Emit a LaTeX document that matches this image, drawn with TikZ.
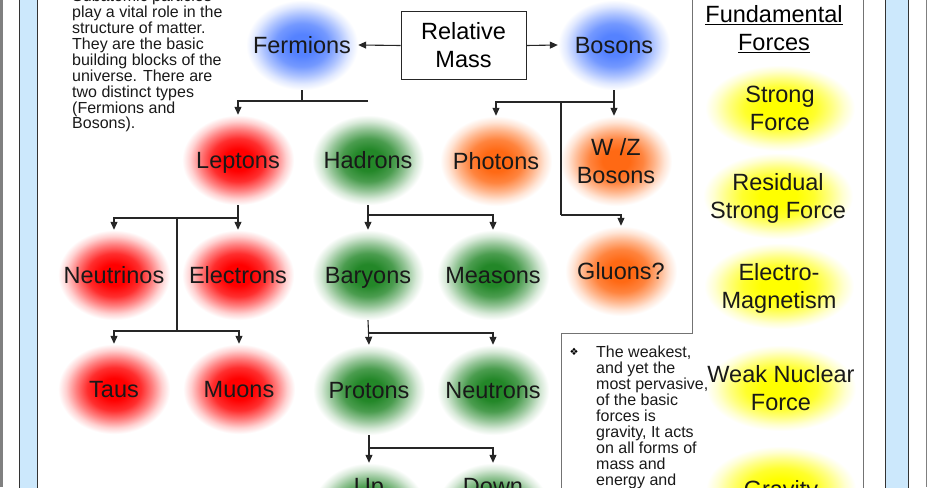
\documentclass[tikz,border=0pt]{standalone}
\usepackage{fontspec}
\setmainfont{Liberation Sans}
\newfontfamily\bulletfont{DejaVu Sans}
\usetikzlibrary{arrows.meta}

\definecolor{glowR}{RGB}{255,0,0}
\definecolor{glowG}{RGB}{35,135,40}
\definecolor{glowO}{RGB}{255,105,20}
\definecolor{glowB}{RGB}{85,130,255}
\definecolor{glowY}{RGB}{255,255,0}
\definecolor{blueband}{RGB}{204,232,252}

% soft glow behind each label
\newcommand{\glowshading}[2]{%
  \pgfdeclareradialshading{#1}{\pgfpoint{0bp}{0bp}}{color(0bp)=(#2); color(6bp)=(#2);
    color(12bp)=(#2!82!white); color(17bp)=(#2!50!white); color(21.5bp)=(#2!18!white);
    color(25bp)=(white); color(50bp)=(white)}}
\glowshading{glowred}{glowR}
\glowshading{glowgreen}{glowG}
\glowshading{gloworange}{glowO}
\glowshading{glowblue}{glowB}
\glowshading{glowyellow}{glowY}

\newcommand{\bigtext}{\fontsize{23.5pt}{28pt}\selectfont}
\newcommand{\smalltext}{\fontsize{16pt}{15.9pt}\selectfont}

\tikzset{
  glow/.style={shade, shading=#1, minimum width=112pt, minimum height=90pt, inner sep=0pt,
    align=center, font=\bigtext, text=black!90, text height=16.8pt, text depth=0pt},
  twoline/.style={text height=44.8pt},
  lepton/.style={glow=glowred},
  hadron/.style={glow=glowgreen},
  boson/.style={glow=gloworange},
  family/.style={glow=glowblue},
  force/.style={glow=glowyellow, minimum width=150pt, minimum height=86pt},
  link/.style={line width=1.1pt, draw=black!85},
  arr/.style={link, -{Triangle[length=8pt, width=7pt]}},
  panel/.style={line width=1pt, draw=black!55},
  band/.style={fill=blueband, draw=black!80, line width=1pt},
  note/.style={font=\smalltext, align=left, inner sep=0pt, text=black!90},
}

\begin{document}
\begin{tikzpicture}[x=1pt, y=-1pt]
  \useasboundingbox (0,0) rectangle (928,487);
  \clip (0,0) rectangle (928,487);

  % frame
  \fill[black!50] (0,0) rectangle (3,487);
  \draw[black!50, line width=1pt] (926.5,0) -- (926.5,487);
  \draw[band] (19,-2) rectangle (37,489);
  \draw[band] (885,-2) rectangle (908,489);
  \draw[panel] (692,-2) -- (692,333) -- (561,333) -- (561,489);
  \draw[panel] (863,-2) -- (863,489);

  % left note
  \node[font=\bulletfont\fontsize{10pt}{10pt}\selectfont] (topbullet) at (53,-4) {❖};
  \node[note, anchor=north west] (intro) at (72,-10)
    {Subatomic particles\\play a vital role in the\\structure of matter.\\They are the basic\\building blocks of the\\universe. There are\\two distinct types\\(Fermions and\\Bosons).};

  % top row
  \node[draw=black!85, line width=1pt, minimum width=125pt, minimum height=67pt, inner sep=0pt,
    align=center, font=\bigtext, text height=44.8pt, text depth=0pt] (mass) at (463.5,45.5) {Relative\\Mass};
  \node[family] (fermions) at (302,45) {Fermions};
  \node[family] (bosons) at (614,45) {Bosons};

  % particles
  \node[lepton] (leptons) at (238,160) {Leptons};
  \node[hadron] (hadrons) at (368,160) {Hadrons};
  \node[boson] (photons) at (496,161) {Photons};
  \node[boson, twoline] (wz) at (616,161) {W /Z\\Bosons};
  \node[lepton] (neutrinos) at (114,275) {Neutrinos};
  \node[lepton] (electrons) at (238,275) {Electrons};
  \node[hadron] (baryons) at (368,275) {Baryons};
  \node[hadron] (measons) at (493,275) {Measons};
  \node[boson] (gluons) at (621,271) {Gluons?};
  \node[lepton] (taus) at (114,389) {Taus};
  \node[lepton] (muons) at (239,389) {Muons};
  \node[hadron] (protons) at (369,390) {Protons};
  \node[hadron] (neutrons) at (493,390) {Neutrons};
  \node[hadron, text height=16pt, text depth=43pt] (up) at (369,508) {Up};
  \node[hadron, text height=16pt, text depth=43pt] (down) at (493,508) {Down};

  % forces column
  \node[font=\bigtext, align=center, inner sep=0pt] (title) at (774,29) {\underline{Fundamental}\\\underline{Forces}};
  \node[force, twoline] (strong) at (780,108) {Strong\\Force};
  \node[force, twoline] (residual) at (778,196) {Residual\\Strong Force};
  \node[force, twoline] (electro) at (779,286) {Electro-\\Magnetism};
  \node[force, twoline] (weak) at (781,388) {Weak Nuclear\\Force};
  \node[force] (gravity) at (781,489) {Gravity};

  % gravity note
  \node[font=\bulletfont\fontsize{10pt}{10pt}\selectfont] (gbullet) at (574,352) {❖};
  \node[note, anchor=north west] (gnote) at (596,346)
    {The weakest,\\and yet the\\most pervasive,\\of the basic\\forces is\\gravity, It acts\\on all forms of\\mass and\\energy and};

  % connectors
  \coordinate (fbar) at (0,101);
  \coordinate (bbar) at (0,102);
  \coordinate (lbar) at (0,218);
  \coordinate (hbar) at (0,215);
  \coordinate (trunk) at (177,218);
  \coordinate (tbar) at (0,331);
  \coordinate (ybar) at (0,333);
  \coordinate (pbar) at (0,448);

  \draw[arr] (mass.west) -- (fermions.east);
  \draw[arr] (mass.east) -- (bosons.east -| bosons.west);

  \draw[link] (fermions.south) -- (fermions.south |- fbar);
  \draw[arr] (hadrons |- fbar) -- (leptons |- fbar) -- (leptons.north);

  \draw[arr] (bosons.south) -- (bosons.south |- wz.north);
  \draw[arr] (bosons.south |- bbar) -- (photons |- bbar) -- (photons.north);
  \draw[link] (561,102) -- (561,215);
  \draw[arr] (561,215) -| (gluons.north);

  \draw[link] (leptons.south) -- (leptons |- lbar);
  \draw[arr] (leptons |- lbar) -- (electrons.north);
  \draw[arr] (leptons |- lbar) -- (neutrinos |- lbar) -- (neutrinos.north);
  \draw[link] (trunk) -- (trunk |- tbar);
  \draw[arr] (trunk |- tbar) -- (taus |- tbar) -- (taus.north);
  \draw[arr] (trunk |- tbar) -- (muons |- tbar) -- (muons.north);

  \draw[arr] (hadrons.south) -- (baryons.north);
  \draw[arr] (hadrons |- hbar) -- (measons |- hbar) -- (measons.north);
  \draw[arr] (baryons.south) -- (protons.north);
  \draw[arr] (baryons |- ybar) -- (neutrons |- ybar) -- (neutrons.north);
  \draw[arr] (protons.south) -- (up.north);
  \draw[arr] (protons |- pbar) -- (down |- pbar) -- (down.north);
\end{tikzpicture}
\end{document}
